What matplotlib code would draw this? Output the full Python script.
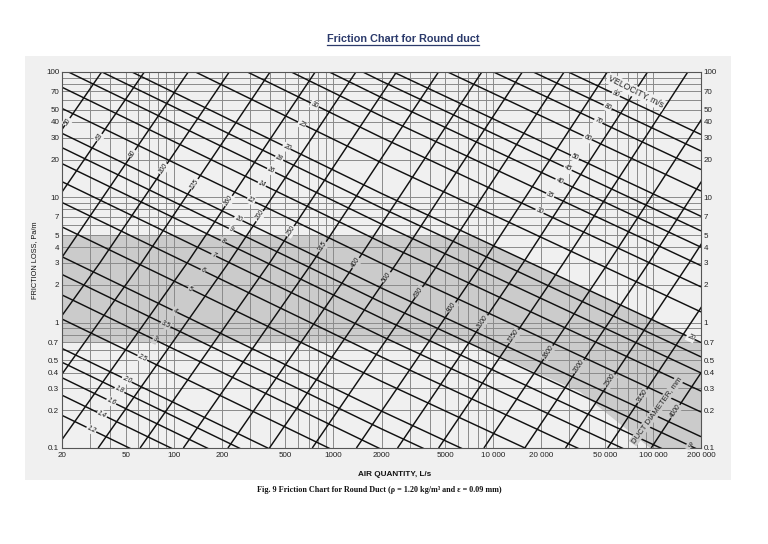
import numpy as np
import matplotlib
matplotlib.use("Agg")
import matplotlib.pyplot as plt
from matplotlib.patches import Rectangle, Polygon
from matplotlib.lines import Line2D
from matplotlib.path import Path

# ---------------- data ----------------
velocities = [1.2, 1.4, 1.6, 1.8, 2.0, 2.5, 3, 3.5, 4, 5, 6, 7, 8, 9, 10, 12, 14, 16, 18,
              20, 25, 30, 35, 40, 45, 50, 60, 70, 80, 90]
# friction (Pa/m) of each velocity line at Q = 20, 2000 and 200000 L/s
vel_f_q20 = [0.1822, 0.2638, 0.3637, 0.483, 0.6228, 1.069, 1.664, 2.423, 3.357, 5.805,
             9.099, 13.33, 18.57, 24.91, 32.41, 51.22, 75.56, 105.9, 142.9, 186.9, 330.6,
             528.2, 786.1, 1110, 1507, 1982, 3188, 4769, 6766, 9216]
vel_f_q2000 = [0.01056, 0.01533, 0.02117, 0.02817, 0.03636, 0.06253, 0.09748, 0.142,
               0.1969, 0.3403, 0.5329, 0.7797, 1.085, 1.453, 1.888, 2.976, 4.376, 6.119,
               8.23, 10.73, 18.88, 30.01, 44.45, 62.52, 84.52, 110.7, 177, 263.2, 371.6,
               503.8]
vel_f_q200000 = [0.0006828, 0.0009928, 0.001373, 0.001829, 0.002364, 0.004073, 0.006357,
                 0.009268, 0.01285, 0.02223, 0.03481, 0.05092, 0.07082, 0.0948, 0.1231,
                 0.1937, 0.2845, 0.3972, 0.5334, 0.6948, 1.218, 1.93, 2.851, 4.001, 5.397,
                 7.056, 11.23, 16.66, 23.44, 31.7]

diameters = [50, 63, 80, 100, 125, 160, 200, 250, 315, 400, 500, 630, 800, 1000, 1250,
             1600, 2000, 2500, 3150, 4000]
# air quantity (L/s) of each diameter line at friction 0.1, 3 and 100 Pa/m
diam_q_f01 = [0.737, 1.408, 2.735, 5.065, 9.349, 18.35, 33.68, 61.64, 115, 218.6, 397.6,
              737.2, 1393, 2521, 4555, 8751, 15770, 28380, 52110, 97520]
diam_q_f3 = [5.298, 9.924, 18.93, 34.52, 62.83, 121.6, 220.4, 398.8, 735.8, 1384, 2493,
             4581, 8579, 15400, 27610, 52630, 94200, 168500, 307300, 571700]
diam_q_f100 = [35.43, 65.51, 123.4, 222.8, 401.4, 769.1, 1383, 2483, 4549, 8496, 15220,
               27800, 51800, 92560, 165300, 313800, 559700, 998000, 1816000, 3368000]

left_vel_labels = ["1.2", "1.4", "1.6", "1.8", "2.0", "2.5", "3", "3.5", "4", "5", "6", "7",
                   "8", "9", "10", "12", "14", "16", "18", "20", "25", "30"]
right_vel_labels = ["30", "35", "40", "45", "50", "60", "70", "80", "90"]
diam_labels = ["50", "63", "80", "100", "125", "160", "200", "250", "315", "400", "500",
               "630", "800", "1000", "1250", "1600", "2000", "2500", "3150", "4000"]

# shaded design region: friction band and lower edge of the diagonal band
band_f_low, band_f_high = 0.7, 5.0
band_edge_velocity = 20
band_low_q = [6860, 35000, 96000]
band_low_f = [0.7, 0.28, 0.1]

x_ticks = [20, 50, 100, 200, 500, 1000, 2000, 5000, 10000, 20000, 50000, 100000, 200000]
x_ticklabels = ["20", "50", "100", "200", "500", "1000", "2000", "5000", "10 000", "20 000",
                "50 000", "100 000", "200 000"]
y_ticks = [0.1, 0.2, 0.3, 0.4, 0.5, 0.7, 1, 2, 3, 4, 5, 7, 10, 20, 30, 40, 50, 70, 100]
y_ticklabels = ["0.1", "0.2", "0.3", "0.4", "0.5", "0.7", "1", "2", "3", "4", "5", "7",
                "10", "20", "30", "40", "50", "70", "100"]

# ---------------- figure ----------------
plt.rcParams['font.family'] = ['Liberation Sans', 'DejaVu Sans']
BG = '#f0f0f0'
BAND = '#cbcbcb'

fig = plt.figure(figsize=(7.68, 5.44), dpi=100)
fig.patch.set_facecolor('white')
fig.add_artist(Rectangle((25/768, 1-480/544), 706/768, 424/544, transform=fig.transFigure,
                         facecolor=BG, edgecolor='none', zorder=-10))

ax = fig.add_axes([62/768, 1-448/544, 639/768, 376/544])
ax.set_zorder(5)
ax.set_facecolor(BG)
ax.set_xscale('log'); ax.set_yscale('log')
ax.set_xlim(20, 200000); ax.set_ylim(0.1, 100)

QN = [20, 2000, 200000]


def interp_log(xs, ys, x):
    return 10 ** np.interp(np.log10(x), np.log10(xs), np.log10(ys))


def vel_nodes(i):
    return QN, [vel_f_q20[i], vel_f_q2000[i], vel_f_q200000[i]]


def diam_nodes(i):
    return [diam_q_f01[i], diam_q_f3[i], diam_q_f100[i]], [0.1, 3, 100]


# shaded region
iv = velocities.index(band_edge_velocity)
qv, fv = vel_nodes(iv)
q_top = 10 ** np.interp(np.log10(band_f_high), np.log10(fv[::-1]), np.log10(qv[::-1]))
verts = [(20, band_f_high), (q_top, band_f_high)]
verts += [(q, f) for q, f in zip(qv, fv) if q > q_top]
verts += [(200000, 0.1)]
verts += list(zip(band_low_q[::-1], band_low_f[::-1]))
verts += [(20, band_f_low)]
ax.add_patch(Polygon(verts, closed=True, facecolor=BAND, edgecolor='none', zorder=0.5))
band_path = Path(np.log10(np.array(verts)))

# grid
grid_q = [m * 10 ** e for e in range(1, 6) for m in range(1, 10) if 20 <= m * 10 ** e <= 200000]
grid_f = [m * 10 ** e for e in range(-1, 2) for m in range(1, 10)] + [100]
for q in grid_q:
    ax.axvline(q, color='#8a8a8a', lw=0.7, zorder=1)
for f in grid_f:
    ax.axhline(f, color='#8a8a8a', lw=0.7, zorder=1)

# chart lines
for i in range(len(velocities)):
    q, f = vel_nodes(i)
    ax.plot(q, f, color='#111111', lw=1.05, zorder=2, solid_capstyle='butt')
for i in range(len(diameters)):
    q, f = diam_nodes(i)
    ax.plot(q, f, color='#111111', lw=1.05, zorder=2, solid_capstyle='butt')


def angle_at(xs, ys, q):
    q1, q2 = q / 1.15, q * 1.15
    p = ax.transData.transform([(q1, interp_log(xs, ys, q1)), (q2, interp_log(xs, ys, q2))])
    return np.degrees(np.arctan2(p[1, 1] - p[0, 1], p[1, 0] - p[0, 0]))


def line_label(xs, ys, q, text, size=4.8):
    f = interp_log(xs, ys, q)
    ang = angle_at(xs, ys, q)
    inside = band_path.contains_point((np.log10(q), np.log10(f)))
    ax.text(q, f, text, rotation=ang, rotation_mode='anchor', ha='center', va='center',
            fontsize=size, style='italic', color='#111111', zorder=4,
            bbox=dict(boxstyle='square,pad=0.12', fc=BAND if inside else BG, ec='none'))


# velocity labels (left column on D ~ 180 mm, right column on D ~ 910 mm)
for lab in left_vel_labels:
    i = velocities.index(float(lab))
    v = velocities[i]
    q, f = vel_nodes(i)
    line_label(q, f, v * np.pi * 0.18 ** 2 / 4 * 1000, lab)
for lab in right_vel_labels:
    i = velocities.index(float(lab))
    v = velocities[i]
    q, f = vel_nodes(i)
    line_label(q, f, v * np.pi * 0.91 ** 2 / 4 * 1000, lab)
q, f = vel_nodes(velocities.index(20))
line_label(q, f, 172000, "20")
q, f = vel_nodes(velocities.index(9))
line_label(q, f, 168000, "9")

# diameter labels at about 11 m/s
for i, lab in enumerate(diam_labels):
    d = diameters[i] / 1000
    q, f = diam_nodes(i)
    line_label(q, f, 11 * np.pi * d ** 2 / 4 * 1000, lab)

# ticks
ax.set_xticks(x_ticks)
ax.set_xticklabels(x_ticklabels)
ax.set_yticks(y_ticks)
ax.set_yticklabels(y_ticklabels)
ax.minorticks_off()
ax.tick_params(axis='both', length=0, labelsize=5.8, colors='#222222')
ax.tick_params(axis='x', pad=3)
ax.tick_params(axis='y', pad=2, labelleft=True, labelright=True)
for s in ax.spines.values():
    s.set_color('#555555'); s.set_linewidth(0.8)

ax.set_xlabel("AIR QUANTITY, L/s", fontsize=5.9, fontweight='bold', color='#111111')
ax.xaxis.set_label_coords(0.52, -0.06)
ax.set_ylabel("FRICTION LOSS, Pa/m", fontsize=5.3, labelpad=6, color='#111111')

ax.text(0.898, 0.947, "VELOCITY, m/s", transform=ax.transAxes, rotation=-27, fontsize=6.3,
        ha='center', va='center', rotation_mode='anchor', color='#222222', zorder=5,
        bbox=dict(boxstyle='square,pad=0.15', fc=BG, ec='none'))
ax.text(0.931, 0.101, "DUCT DIAMETER, mm", transform=ax.transAxes, rotation=54, fontsize=5.6,
        ha='center', va='center', rotation_mode='anchor', color='#222222', zorder=5,
        bbox=dict(boxstyle='square,pad=0.15', fc=BAND, ec='none'))

title = fig.text(403/768, 1-39/544, "Friction Chart for Round duct", fontsize=7.8,
                 fontweight='bold', color='#2b3a6b', ha='center', va='center')
fig.text(379/768, 1-490/544, "Fig. 9 Friction Chart for Round Duct (\u03c1 = 1.20 kg/m\u00b3 and \u03b5 = 0.09 mm)",
         fontsize=5.9, fontweight='bold', family=['Liberation Serif', 'DejaVu Serif'],
         ha='center', va='center', color='#111111')

fig.canvas.draw()
bb = title.get_window_extent()
inv = fig.transFigure.inverted()
(x0, y0), (x1, y1) = inv.transform([(bb.x0, bb.y0 - 1.2), (bb.x1, bb.y0 - 1.2)])
fig.add_artist(Line2D([x0, x1], [y0, y1], transform=fig.transFigure, color='#2b3a6b', lw=0.9))

fig.savefig("out.png", dpi=100)
